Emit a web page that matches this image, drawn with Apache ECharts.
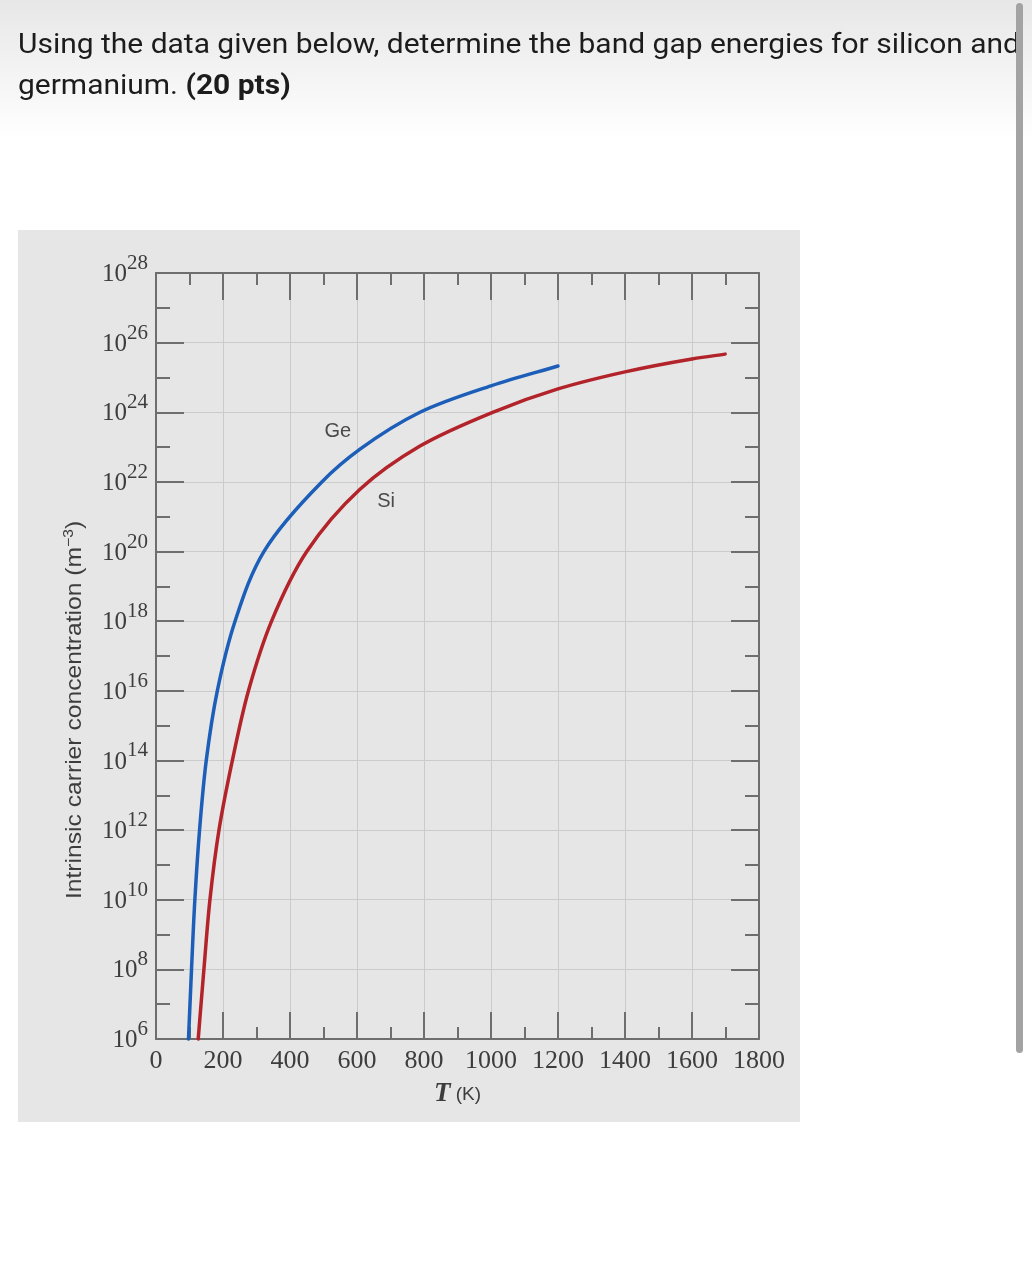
<!DOCTYPE html>
<html><head><meta charset="utf-8">
<script src="https://cdn.jsdelivr.net/npm/echarts@6/dist/echarts.min.js"></script>
<style>html,body{margin:0;padding:0;background:#fff;overflow:hidden}#c{width:1032px;height:1274px;}</style>
</head><body><div id="c"></div>
<script>
// Temperatures (K) and log10 of intrinsic carrier concentration (m^-3)
const geT   = [97, 106, 116, 130, 150, 183, 236, 322, 495, 609, 788, 1000, 1200];
const geExp = [6, 8, 10, 12, 14, 16, 18, 20, 22, 22.94, 24, 24.76, 25.33];
const siT   = [126, 143, 161, 188, 228, 276, 345, 450, 609, 788, 1005, 1200, 1400, 1600, 1699];
const siExp = [6, 8, 10, 12, 14, 16, 18, 20, 21.79, 23.03, 24, 24.67, 25.16, 25.53, 25.67];
const xTicks = [0, 200, 400, 600, 800, 1000, 1200, 1400, 1600, 1800];
const yTickExp = [6, 8, 10, 12, 14, 16, 18, 20, 22, 24, 26, 28];

const headLine1 = 'Using the data given below, determine the band gap energies for silicon and';
const headLine2a = 'germanium. ';
const headLine2b = '(20 pts)';
const yName = 'Intrinsic carrier concentration (m';

const cv = document.createElement('canvas').getContext('2d');
cv.font = '27px Roboto';
const headScale = 1002 / cv.measureText(headLine1).width;
cv.font = '22px "Liberation Sans"';
const yNameW = cv.measureText(yName + ')').width + 14;
const yNameScale = 376 / yNameW;

const axisCol = '#6e6e6e';
const textCol = '#3d3d3d';
const chart = echarts.init(document.getElementById('c'), null, {renderer: 'canvas'});

// smooth curve (centripetal Catmull-Rom) through the points the axes place
function curvePath(pts) {
  const dist = (a, b) => Math.hypot(a[0] - b[0], a[1] - b[1]);
  let d = 'M' + pts[0][0] + ' ' + pts[0][1];
  const n = pts.length;
  for (let i = 0; i < n - 1; i++) {
    const p1 = pts[i], p2 = pts[i + 1];
    const p0 = i > 0 ? pts[i - 1] : [2 * p1[0] - p2[0], 2 * p1[1] - p2[1]];
    const p3 = i < n - 2 ? pts[i + 2] : [2 * p2[0] - p1[0], 2 * p2[1] - p1[1]];
    const d1 = Math.sqrt(dist(p0, p1)) || 1e-6, d2 = Math.sqrt(dist(p1, p2)) || 1e-6, d3 = Math.sqrt(dist(p2, p3)) || 1e-6;
    const b1 = [0, 1].map(k => (d1 * d1 * p2[k] - d2 * d2 * p0[k] + (2 * d1 * d1 + 3 * d1 * d2 + d2 * d2) * p1[k]) / (3 * d1 * (d1 + d2)));
    const b2 = [0, 1].map(k => (d3 * d3 * p1[k] - d2 * d2 * p3[k] + (2 * d3 * d3 + 3 * d3 * d2 + d2 * d2) * p2[k]) / (3 * d3 * (d3 + d2)));
    d += ' C' + b1[0] + ' ' + b1[1] + ' ' + b2[0] + ' ' + b2[1] + ' ' + p2[0] + ' ' + p2[1];
  }
  return d;
}
function curveSeries(name, xs, ys, color, labelCoord) {
  const data = xs.map((t, i) => [t, ys[i]]);
  return {
    name: name, type: 'custom', z: 5, clip: false,
    encode: {x: 0, y: 1},
    data: data,
    renderItem: (params, api) => {
      if (params.dataIndex !== 0) return null;
      const pts = data.map(p => api.coord(p));
      return {type: 'path', shape: {pathData: curvePath(pts)},
        style: {stroke: color, lineWidth: 3.5, fill: null, lineCap: 'round', lineJoin: 'round'}};
    },
    markPoint: {symbol: 'circle', symbolSize: 1, itemStyle: {color: 'rgba(0,0,0,0)'},
      label: {show: true, position: 'inside', formatter: name, color: '#4a4a4a', fontSize: 20, fontFamily: 'Liberation Sans'},
      data: [{coord: labelCoord}]}
  };
}

const baseX = {
  type: 'value', min: xTicks[0], max: xTicks[xTicks.length - 1], interval: 200,
  axisLine: {show: true, onZero: false, lineStyle: {color: axisCol, width: 2}},
  axisTick: {show: true, inside: true, length: 27, lineStyle: {color: axisCol, width: 2}},
  minorTick: {show: true, splitNumber: 2, length: 12, lineStyle: {color: axisCol, width: 2}},
};
const baseY = {
  type: 'value', min: yTickExp[0], max: yTickExp[yTickExp.length - 1], interval: 2,
  axisLine: {show: true, onZero: false, lineStyle: {color: axisCol, width: 2}},
  axisTick: {show: true, inside: true, length: 28, lineStyle: {color: axisCol, width: 2}},
  minorTick: {show: true, splitNumber: 2, length: 14, lineStyle: {color: axisCol, width: 2}},
};

chart.setOption({
  backgroundColor: 'transparent',
  animation: false,
  grid: {left: 156, right: 273, top: 273, bottom: 235},
  graphic: [
    {type: 'rect', z: -100, shape: {x: 0, y: 0, width: 1032, height: 140},
     style: {fill: new echarts.graphic.LinearGradient(0, 0, 0, 1, [{offset: 0, color: '#e7e7e7'}, {offset: 1, color: '#ffffff'}])}},
    {type: 'rect', z: -100, shape: {x: 18, y: 230, width: 782, height: 892}, style: {fill: '#e6e6e6'}},
    {type: 'text', x: 18, y: 46, scaleX: headScale, z: 10,
     style: {text: headLine1, font: '27px Roboto', fill: '#1c1c1c', verticalAlign: 'middle', align: 'left'}},
    {type: 'text', x: 18, y: 87, scaleX: headScale, z: 10,
     style: {text: '{n|' + headLine2a + '}{b|' + headLine2b + '}', verticalAlign: 'middle', align: 'left',
       rich: {n: {font: '27px Roboto', fill: '#1c1c1c'}, b: {font: 'bold 27px Roboto', fill: '#1c1c1c'}}}},
    {type: 'text', x: 75, y: 710, rotation: Math.PI / 2, scaleX: yNameScale, z: 10,
     style: {text: yName + '{s|−3}' + ')', font: '22px "Liberation Sans"', fill: textCol, align: 'center', verticalAlign: 'middle',
       rich: {s: {font: '14px "Liberation Sans"', fill: textCol, padding: [0, 0, 12, 0]}}}},
    {type: 'rect', z: 100, shape: {x: 1016, y: 3, width: 7, height: 1050, r: 3.5}, style: {fill: '#a3a3a3'}}
  ],
  xAxis: [
    Object.assign({}, baseX, {
      position: 'bottom',
      axisLabel: {margin: 9, fontFamily: 'Liberation Serif', fontSize: 26, color: textCol,
        formatter: v => (xTicks.indexOf(v) >= 0 ? String(v) : '')},
      splitLine: {show: true, lineStyle: {color: '#cbcbcb', width: 1}},
      name: '{t|T}{k| (K)}', nameLocation: 'middle', nameGap: 42,
      nameTextStyle: {rich: {
        t: {fontFamily: 'Liberation Serif', fontStyle: 'italic', fontWeight: 'bold', fontSize: 27, color: textCol},
        k: {fontFamily: 'Liberation Sans', fontSize: 19, color: textCol}}}
    }),
    Object.assign({}, baseX, {position: 'top', axisLabel: {show: false}, splitLine: {show: false}})
  ],
  yAxis: [
    Object.assign({}, baseY, {
      position: 'left',
      axisLabel: {margin: 8, formatter: v => '{a|10}{b|' + v + '}',
        rich: {
          a: {fontFamily: 'Liberation Serif', fontSize: 25, color: textCol, verticalAlign: 'bottom'},
          b: {fontFamily: 'Liberation Serif', fontSize: 21, color: textCol, verticalAlign: 'bottom', padding: [0, 0, 13, 0]}
        }, padding: [0, 0, 6, 0]},
      splitLine: {show: true, lineStyle: {color: '#cbcbcb', width: 1}}
    }),
    Object.assign({}, baseY, {position: 'right', axisLabel: {show: false}, splitLine: {show: false}})
  ],
  series: [
    curveSeries('Ge', geT, geExp, '#1c5eb8', [543, 23.46]),
    curveSeries('Si', siT, siExp, '#b2232a', [687, 21.44])
  ]
});
</script>
</body></html>
